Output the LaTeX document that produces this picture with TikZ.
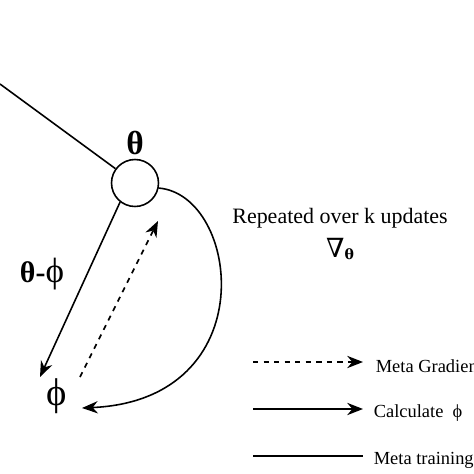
\documentclass[tikz,border=0pt]{standalone}
\usepackage{fontspec}
\setmainfont{Liberation Serif}
\newfontfamily\nablafont{DejaVu Serif}
\usetikzlibrary{arrows.meta}

\begin{document}
\begin{tikzpicture}[x=0.02cm, y=-0.02cm, line width=0.9pt,
    param/.style={circle, draw, minimum size=0.94cm, inner sep=0pt},
    calcarrow/.style={-{Stealth[length=9pt, width=7pt]}},
    gradarrow/.style={dashed, -{Stealth[length=9pt, width=7pt]}},
    legendtext/.style={anchor=west, font=\fontsize{10.5}{12}\selectfont, inner sep=0pt}
    ]
\useasboundingbox (0,0) rectangle (474,474);

\node[param] (theta) at (135,183) {};
\node[font=\fontsize{19}{20}\selectfont\bfseries] (thetalabel) at (135,143) {θ};
\node[font=\fontsize{22}{24}\selectfont] (phi) at (57,396) {ϕ};
\node (diff) at (42,274) {\fontsize{17}{20}\selectfont\bfseries θ-\mdseries\fontsize{20}{22}\selectfont ϕ};

\node[font=\fontsize{12.5}{14}\selectfont] (repeat) at (340,218) {Repeated over k updates};
\node (nabla) at (340,249) {\nablafont\fontsize{15}{16}\selectfont ∇\raisebox{-1pt}{\fontsize{8}{9}\selectfont\bfseries θ}};

% meta training line
\coordinate (mt) at (0,84);
\draw (mt) -- (theta);

% calculate phi
\coordinate (calcend) at (40,377);
\draw[calcarrow] (theta.232) -- (calcend);

% meta gradient
\coordinate (gradstart) at (80,377);
\coordinate (gradend) at (158,221);
\draw[gradarrow] (gradstart) -- (gradend);

% update loop
\coordinate (loopend) at (82,408);
\draw[calcarrow] (theta.-12) .. controls (240,195) and (265,400) .. (loopend);

% legend
\coordinate (l1a) at (253,362);
\coordinate (l1b) at (363,362);
\coordinate (l2a) at (253,409);
\coordinate (l2b) at (363,409);
\coordinate (l3a) at (253,456);
\coordinate (l3b) at (363,456);
\draw[gradarrow] (l1a) -- (l1b);
\draw[calcarrow] (l2a) -- (l2b);
\draw (l3a) -- (l3b);
\node[legendtext] (gradtext) at (375,366) {Meta Gradient};
\node[legendtext] (calctext) at (373,413) {Calculate \ ϕ};
\node[legendtext] (mttext) at (373,460) {Meta training};
\end{tikzpicture}
\end{document}
